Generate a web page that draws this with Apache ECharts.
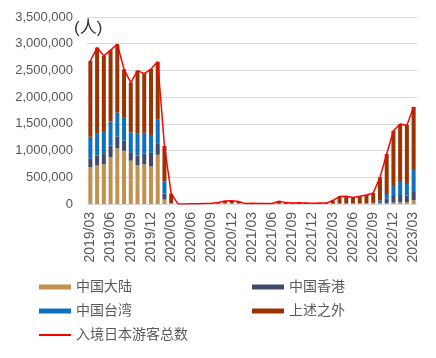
<!DOCTYPE html>
<html>
<head>
<meta charset="utf-8">
<script src="https://cdn.jsdelivr.net/npm/echarts@6/dist/echarts.min.js"></script>
<style>
html,body{margin:0;padding:0;background:#fff;}
#chart{width:436px;height:358px;}
</style>
</head>
<body>
<div id="chart"></div>
<script>
const categories = [
  '2019/03','2019/04','2019/05','2019/06','2019/07','2019/08','2019/09','2019/10','2019/11','2019/12',
  '2020/01','2020/02','2020/03','2020/04','2020/05','2020/06','2020/07','2020/08','2020/09','2020/10','2020/11','2020/12',
  '2021/01','2021/02','2021/03','2021/04','2021/05','2021/06','2021/07','2021/08','2021/09','2021/10','2021/11','2021/12',
  '2022/01','2022/02','2022/03','2022/04','2022/05','2022/06','2022/07','2022/08','2022/09','2022/10','2022/11','2022/12',
  '2023/01','2023/02','2023/03'
];
const mainland = [
  690000,720000,745000,878000,1040000,997000,812000,728000,744000,702000,
  922000,82000,10000,300,100,200,300,800,1400,4500,13000,13000,
  11000,1200,1300,1800,2000,1500,2000,2000,1800,2100,1600,1200,
  1800,1500,5000,6000,7000,8000,9000,10000,12000,15000,20000,25000,
  31000,36000,75000
];
const hongkong = [
  165000,190000,190000,213000,220000,190000,158000,178000,200000,255000,
  204000,115000,1000,0,0,0,0,100,100,100,200,200,
  100,0,0,0,0,0,300,100,100,100,100,100,
  100,100,300,500,800,1000,1500,2000,3000,16000,80000,125000,
  138000,120000,150000
];
const taiwan = [
  404000,404000,431000,455000,450000,425000,370000,408000,390000,336000,
  462000,230000,5000,100,100,100,200,400,600,1200,2000,2100,
  1400,100,200,200,200,200,1800,500,300,500,500,300,
  300,300,1000,2000,3000,3500,5000,6000,8000,38000,87000,187000,
  262000,219000,412000
];
const others = [
  1421000,1613000,1407000,1334000,1281000,908000,933000,1183000,1107000,1233000,
  1073000,658000,178000,2500,1500,2300,3300,7400,11600,21600,41500,43400,
  34000,6100,10800,8900,7800,7600,47000,23300,15500,19400,18500,10500,
  15600,14800,59800,131000,136200,107900,129100,151900,183600,429600,747600,1033100,
  1066300,1100300,1180500
];
const total = [
  2680000,2927000,2773000,2880000,2991000,2520000,2273000,2497000,2441000,2526000,
  2661000,1085000,194000,2900,1700,2600,3800,8700,13700,27400,56700,58700,
  46500,7400,12300,10900,10000,9300,51100,25900,17700,22100,20700,12100,
  17800,16700,66100,139500,147000,120400,144600,169900,206600,498600,934600,1370100,
  1497300,1475300,1817500
];
const yTicks = [0,500000,1000000,1500000,2000000,2500000,3000000,3500000];

const FONT = '"Liberation Sans","Noto Sans CJK SC",sans-serif';
const chart = echarts.init(document.getElementById('chart'));
const legendText = {color:'#595959', fontSize:14, fontFamily:FONT};
function leg(name, left, top, thin) {
  return {
    data:[name], left:left, top:top, icon:'rect',
    itemWidth:32, itemHeight: thin ? 2 : 5, itemGap:0,
    textStyle:legendText, padding:0, selectedMode:false
  };
}
chart.setOption({
  animation:false,
  textStyle:{fontFamily:FONT},
  grid:{left:87, right:19, top:17, bottom:154},
  graphic:[{type:'text', left:74, top:20, style:{text:'(人)', fontSize:17, fill:'#333', fontFamily:FONT}}],
  legend:[
    leg('中国大陆',39,280),
    leg('中国香港',252,280),
    leg('中国台湾',39,304),
    leg('上述之外',252,304),
    leg('入境日本游客总数',39,328,true)
  ],
  xAxis:{
    type:'category', data:categories, boundaryGap:true,
    axisLine:{show:true, lineStyle:{color:'#d9d9d9'}},
    axisTick:{show:false},
    axisLabel:{rotate:90, interval:2, color:'#595959', fontSize:14, margin:8, fontFamily:FONT}
  },
  yAxis:{
    type:'value', min:yTicks[0], max:yTicks[yTicks.length-1], interval:500000,
    axisLine:{show:false}, axisTick:{show:false},
    splitLine:{lineStyle:{color:'#d9d9d9', width:1}},
    axisLabel:{color:'#595959', fontSize:13, margin:14, fontFamily:FONT,
      formatter:v=>v.toLocaleString('en-US')}
  },
  series:[
    {name:'中国大陆', type:'bar', stack:'a', data:mainland, barWidth:4, itemStyle:{color:'#C0914F'}},
    {name:'中国香港', type:'bar', stack:'a', data:hongkong, barWidth:4, itemStyle:{color:'#3E4A6E'}},
    {name:'中国台湾', type:'bar', stack:'a', data:taiwan, barWidth:4, itemStyle:{color:'#0F70C0'}},
    {name:'上述之外', type:'bar', stack:'a', data:others, barWidth:4, itemStyle:{color:'#993300'}},
    {name:'入境日本游客总数', type:'line', data:total, symbol:'none', lineStyle:{color:'#FF0000', width:1.5}, itemStyle:{color:'#FF0000'}, z:5}
  ]
});
</script>
</body>
</html>
